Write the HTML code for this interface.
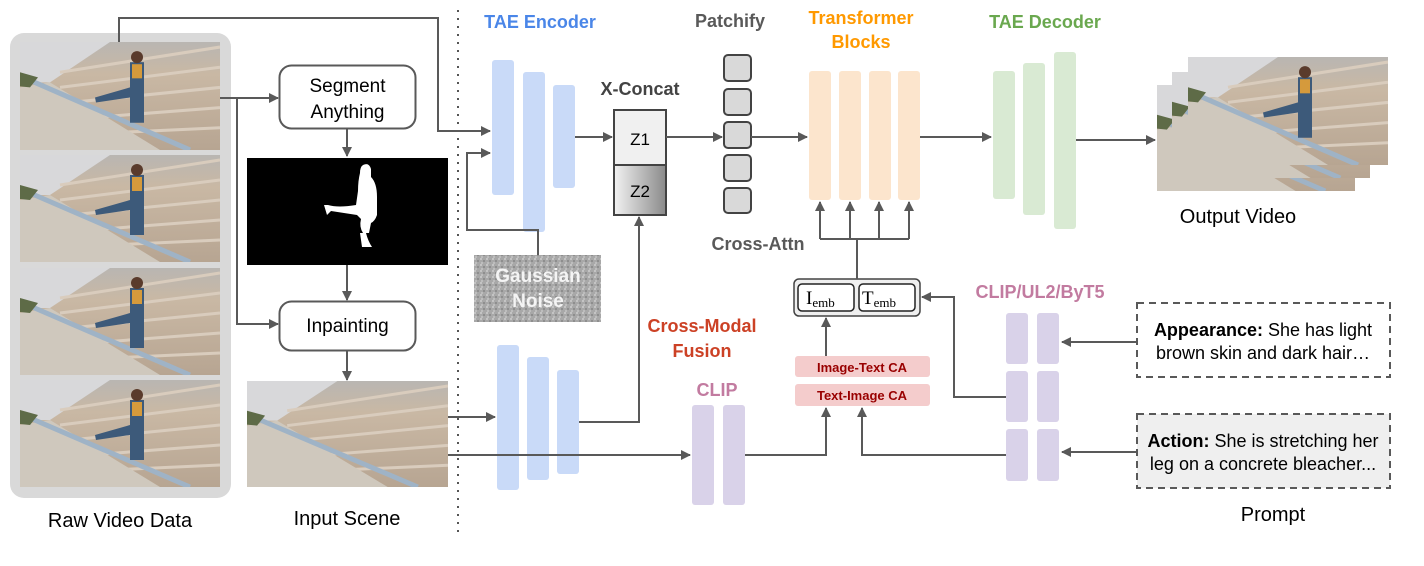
<!DOCTYPE html>
<html><head><meta charset="utf-8"><style>
html,body{margin:0;padding:0;background:#fff;}
svg{display:block;font-family:"Liberation Sans",Arial,sans-serif;}
</style></head><body>
<svg width="1424" height="566" viewBox="0 0 1424 566" xmlns="http://www.w3.org/2000/svg">
<defs>
<marker id="a" viewBox="0 0 10 10" refX="9" refY="5" markerWidth="10" markerHeight="10" markerUnits="userSpaceOnUse" orient="auto"><path d="M0,0 L10,5 L0,10 z" fill="#595959"/></marker>
<linearGradient id="sky" x1="0" y1="0" x2="0" y2="1"><stop offset="0" stop-color="#b9b6b2"/><stop offset="0.3" stop-color="#c9b8a4"/><stop offset="1" stop-color="#b7a592"/></linearGradient>
<linearGradient id="z2" x1="0" y1="0" x2="1" y2="0"><stop offset="0" stop-color="#f2f2f2"/><stop offset="1" stop-color="#8a8a8a"/></linearGradient>
<pattern id="noise" width="6" height="6" patternUnits="userSpaceOnUse"><rect width="6" height="6" fill="#a8a8a8"/><rect x="0" y="0" width="2" height="2" fill="#c4c4c4"/><rect x="3" y="2" width="2" height="2" fill="#8e8e8e"/><rect x="1" y="4" width="2" height="2" fill="#bdbdbd"/></pattern>
<symbol id="ph" viewBox="0 0 200 107" preserveAspectRatio="none">
<rect width="200" height="107" fill="url(#sky)"/>
<path d="M0,0 H90 L30,40 H0z" fill="#d8d8da"/>
<g stroke="#d9ccbd" stroke-width="3"><line x1="40" y1="30" x2="200" y2="5"/><line x1="40" y1="45" x2="200" y2="25"/><line x1="50" y1="60" x2="200" y2="45"/><line x1="70" y1="75" x2="200" y2="65"/><line x1="90" y1="90" x2="200" y2="85"/></g>
<path d="M0,45 L30,40 L140,107 H0z" fill="#cfc8bd"/>
<line x1="10" y1="38" x2="170" y2="107" stroke="#9fb3c6" stroke-width="5"/>
<path d="M0,30 L18,35 L10,45 L0,44z" fill="#5e6b47"/>
</symbol>
<symbol id="pw" viewBox="0 0 200 107" preserveAspectRatio="none">
<use href="#ph" width="200" height="107"/>
<rect x="110" y="20" width="14" height="60" fill="#3d5a7a"/><rect x="112" y="22" width="10" height="14" fill="#d59a3c"/><circle cx="117" cy="15" r="6" fill="#5a3b2c"/><path d="M110,45 L75,55 L76,60 L110,55z" fill="#3d5a7a"/>
</symbol>
</defs>

<!-- Raw video panel -->
<rect x="10" y="33" width="221" height="465" rx="14" fill="#d9d9d9"/>
<use href="#pw" x="20" y="42" width="200" height="108"/>
<use href="#pw" x="20" y="155" width="200" height="107"/>
<use href="#pw" x="20" y="268" width="200" height="107"/>
<use href="#pw" x="20" y="380" width="200" height="107"/>
<text x="120" y="527" font-size="20" text-anchor="middle" fill="#000">Raw Video Data</text>

<!-- segment -->
<rect x="279.5" y="65.5" width="136" height="63" rx="12" fill="#fff" stroke="#595959" stroke-width="2"/>
<text x="347.5" y="92" font-size="19" text-anchor="middle">Segment</text>
<text x="347.5" y="118" font-size="19" text-anchor="middle">Anything</text>
<rect x="247" y="158" width="201" height="107" fill="#000"/>
<path d="M363,165 q6,-3 8,4 l0,8 q6,6 6,20 l0,18 q-2,6 -6,8 l-2,10 -6,0 q-4,-6 -2,-14 l-4,-4 -26,-4 -4,4 -3,-10 4,0 q10,3 28,0 l2,-14 q0,-10 2,-18 q0,-6 3,-8z" fill="#fff"/>
<path d="M360,233 l6,0 q2,8 6,14 l-10,0z" fill="#fff"/>
<rect x="279.5" y="301.5" width="136" height="49" rx="12" fill="#fff" stroke="#595959" stroke-width="2"/>
<text x="347.5" y="332" font-size="19" text-anchor="middle">Inpainting</text>
<use href="#ph" x="247" y="381" width="201" height="106"/>
<text x="347" y="525" font-size="20" text-anchor="middle">Input Scene</text>

<line x1="458" y1="10" x2="458" y2="532" stroke="#555" stroke-width="2" stroke-dasharray="2,6"/>

<!-- encoder -->
<text x="540" y="28" font-size="18" font-weight="bold" fill="#4a86e8" text-anchor="middle">TAE Encoder</text>
<g fill="#c9daf8"><rect x="492" y="60" width="22" height="135" rx="3"/><rect x="523" y="72" width="22" height="160" rx="3" height="111"/><rect x="553" y="85" width="22" height="103" rx="3"/>
<rect x="497" y="345" width="22" height="145" rx="3"/><rect x="527" y="357" width="22" height="123" rx="3"/><rect x="557" y="370" width="22" height="104" rx="3"/></g>
<rect x="474" y="255" width="127" height="67" fill="url(#noise)"/>
<text x="538" y="282" font-size="19" font-weight="bold" fill="#f4f4f4" text-anchor="middle">Gaussian</text>
<text x="538" y="307" font-size="19" font-weight="bold" fill="#f4f4f4" text-anchor="middle">Noise</text>

<text x="640" y="95" font-size="18" font-weight="bold" fill="#434343" text-anchor="middle">X-Concat</text>
<rect x="614" y="110" width="52" height="55" fill="#f0f0f0" stroke="#434343" stroke-width="2"/>
<rect x="614" y="165" width="52" height="50" fill="url(#z2)" stroke="#434343" stroke-width="2"/>
<text x="640" y="145" font-size="17" text-anchor="middle">Z1</text>
<text x="640" y="197" font-size="17" text-anchor="middle">Z2</text>

<text x="730" y="27" font-size="18" font-weight="bold" fill="#595959" text-anchor="middle">Patchify</text>
<g fill="#d9d9d9" stroke="#434343" stroke-width="2"><rect x="724" y="55" width="27" height="26" rx="4"/><rect x="724" y="89" width="27" height="26" rx="4"/><rect x="724" y="122" width="27" height="26" rx="4"/><rect x="724" y="155" width="27" height="26" rx="4"/><rect x="724" y="188" width="27" height="25" rx="4"/></g>
<text x="758" y="250" font-size="18" font-weight="bold" fill="#595959" text-anchor="middle">Cross-Attn</text>

<text x="861" y="24" font-size="18" font-weight="bold" fill="#ff9900" text-anchor="middle">Transformer</text>
<text x="861" y="48" font-size="18" font-weight="bold" fill="#ff9900" text-anchor="middle">Blocks</text>
<g fill="#fce5cd"><rect x="809" y="71" width="22" height="129" rx="3"/><rect x="839" y="71" width="22" height="129" rx="3"/><rect x="869" y="71" width="22" height="129" rx="3"/><rect x="898" y="71" width="22" height="129" rx="3"/></g>

<text x="1045" y="28" font-size="18" font-weight="bold" fill="#6aa84f" text-anchor="middle">TAE Decoder</text>
<g fill="#d9ead3"><rect x="993" y="71" width="22" height="128" rx="3"/><rect x="1023" y="63" width="22" height="152" rx="3"/><rect x="1054" y="52" width="22" height="177" rx="3"/></g>

<use href="#pw" x="1157" y="85" width="198" height="106"/>
<use href="#pw" x="1172" y="72" width="198" height="106"/>
<use href="#pw" x="1188" y="57" width="200" height="108"/>
<text x="1238" y="223" font-size="20" text-anchor="middle">Output Video</text>

<!-- fusion -->
<text x="702" y="332" font-size="18" font-weight="bold" fill="#cc4125" text-anchor="middle">Cross-Modal</text>
<text x="702" y="357" font-size="18" font-weight="bold" fill="#cc4125" text-anchor="middle">Fusion</text>
<text x="717" y="396" font-size="18" font-weight="bold" fill="#c27ba0" text-anchor="middle">CLIP</text>
<g fill="#d9d2e9"><rect x="692" y="405" width="22" height="100" rx="3"/><rect x="723" y="405" width="22" height="100" rx="3"/></g>
<rect x="795" y="356" width="135" height="21" rx="3" fill="#f4cccc"/>
<rect x="795" y="384" width="135" height="22" rx="3" fill="#f4cccc"/>
<text x="862" y="372" font-size="13" font-weight="bold" fill="#990000" text-anchor="middle">Image-Text CA</text>
<text x="862" y="400" font-size="13" font-weight="bold" fill="#990000" text-anchor="middle">Text-Image CA</text>
<rect x="794" y="279" width="126" height="37" rx="5" fill="#efefef" stroke="#434343" stroke-width="1.5"/>
<rect x="798" y="284" width="56" height="27" rx="4" fill="#fff" stroke="#222" stroke-width="1.5"/>
<rect x="859" y="284" width="56" height="27" rx="4" fill="#fff" stroke="#222" stroke-width="1.5"/>
<text x="806" y="304" font-size="19" font-family="Liberation Serif,serif">I<tspan font-size="13" dy="3">emb</tspan></text>
<text x="862" y="304" font-size="19" font-family="Liberation Serif,serif">T<tspan font-size="13" dy="3">emb</tspan></text>

<text x="1040" y="298" font-size="18" font-weight="bold" fill="#c27ba0" text-anchor="middle">CLIP/UL2/ByT5</text>
<g fill="#d9d2e9"><rect x="1006" y="313" width="22" height="51" rx="3"/><rect x="1037" y="313" width="22" height="51" rx="3"/><rect x="1006" y="371" width="22" height="51" rx="3"/><rect x="1037" y="371" width="22" height="51" rx="3"/><rect x="1006" y="429" width="22" height="52" rx="3"/><rect x="1037" y="429" width="22" height="52" rx="3"/></g>

<rect x="1137" y="303" width="253" height="74" fill="#fff" stroke="#595959" stroke-width="2" stroke-dasharray="7,5"/>
<rect x="1137" y="414" width="253" height="74" fill="#efefef" stroke="#595959" stroke-width="2" stroke-dasharray="7,5"/>
<text x="1263" y="336" font-size="18" text-anchor="middle"><tspan font-weight="bold">Appearance:</tspan> She has light</text>
<text x="1263" y="359" font-size="18" text-anchor="middle">brown skin and dark hair…</text>
<text x="1263" y="447" font-size="18" text-anchor="middle"><tspan font-weight="bold">Action:</tspan> She is stretching her</text>
<text x="1263" y="470" font-size="18" text-anchor="middle">leg on a concrete bleacher...</text>
<text x="1273" y="521" font-size="20" text-anchor="middle">Prompt</text>

<!-- connectors -->
<g fill="none" stroke="#595959" stroke-width="2">
<path d="M119,42 V18 H438 V131 H490" marker-end="url(#a)"/>
<path d="M220,98 H278" marker-end="url(#a)"/>
<path d="M237,98 V324 H278" marker-end="url(#a)"/>
<path d="M347,129 V156" marker-end="url(#a)"/>
<path d="M347,265 V300" marker-end="url(#a)"/>
<path d="M347,351 V380" marker-end="url(#a)"/>
<path d="M538,255 V230 H467 V153 H490" marker-end="url(#a)"/>
<path d="M448,417 H495" marker-end="url(#a)"/>
<path d="M448,455 H690" marker-end="url(#a)"/>
<path d="M579,422 H639 V217" marker-end="url(#a)"/>
<path d="M575,137 H612" marker-end="url(#a)"/>
<path d="M666,137 H722" marker-end="url(#a)"/>
<path d="M751,137 H807" marker-end="url(#a)"/>
<path d="M920,137 H991" marker-end="url(#a)"/>
<path d="M1076,140 H1155" marker-end="url(#a)"/>
<path d="M857,279 V239"/>
<path d="M820,239 H909"/>
<path d="M820,239 V202" marker-end="url(#a)"/>
<path d="M850,239 V202" marker-end="url(#a)"/>
<path d="M879,239 V202" marker-end="url(#a)"/>
<path d="M909,239 V202" marker-end="url(#a)"/>
<path d="M826,356 V318" marker-end="url(#a)"/>
<path d="M745,455 H826 V408" marker-end="url(#a)"/>
<path d="M1006,455 H862 V408" marker-end="url(#a)"/>
<path d="M1006,397 H954 V297 H922" marker-end="url(#a)"/>
<path d="M1137,342 H1062" marker-end="url(#a)"/>
<path d="M1137,452 H1062" marker-end="url(#a)"/>
</g>
</svg>
</body></html>
